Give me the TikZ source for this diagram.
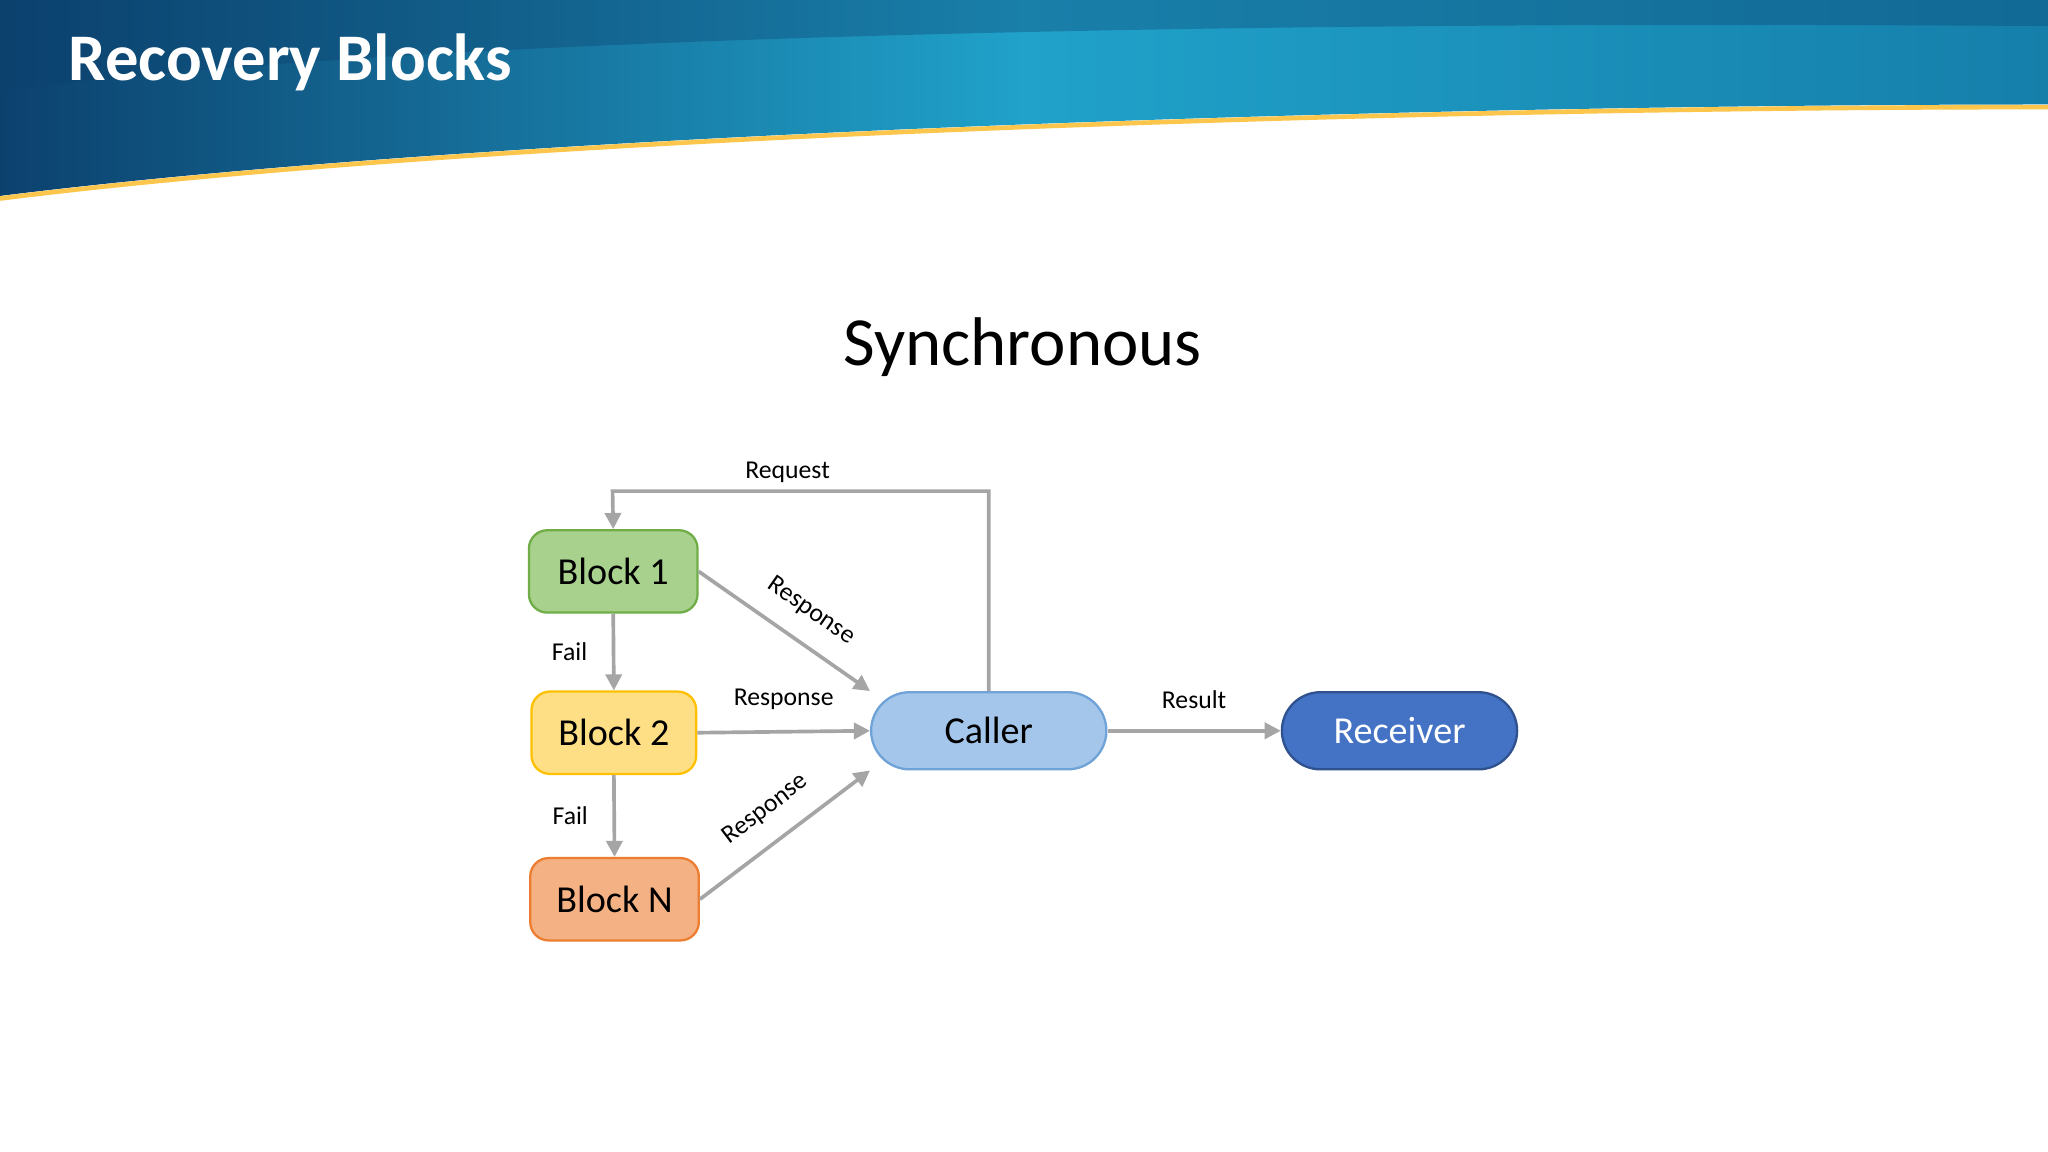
\documentclass[tikz,border=0pt]{standalone}
\usepackage{fontspec}
\setmainfont{Carlito}
\usetikzlibrary{arrows.meta}
\definecolor{arrgray}{HTML}{A5A5A5}
\definecolor{hdark}{HTML}{0C416E}
\definecolor{hmid}{HTML}{20A2CA}
\definecolor{hright}{HTML}{157FAA}
\definecolor{gfill}{HTML}{A9D18E}
\definecolor{gline}{HTML}{70AD47}
\definecolor{yfill}{HTML}{FFDF85}
\definecolor{yline}{HTML}{FFC000}
\definecolor{ofill}{HTML}{F4B183}
\definecolor{oline}{HTML}{ED7D31}
\definecolor{cfill}{HTML}{A4C6EA}
\definecolor{cline}{HTML}{6FA3D8}
\definecolor{rfill}{HTML}{4472C4}
\definecolor{rline}{HTML}{2F528F}
\begin{document}
\begin{tikzpicture}[x=0.01cm,y=-0.01cm,
    blk/.style={draw,line width=0.5pt,rounded corners=4pt,minimum width=1.29cm,minimum height=0.63cm,font=\fontsize{8.3}{10}\selectfont,text=black},
    pill/.style={draw,line width=0.5pt,rounded corners=0.295cm,minimum width=1.8cm,minimum height=0.59cm,font=\fontsize{8.3}{10}\selectfont},
    fwd/.style={draw=arrgray,line width=0.8pt,-{Triangle[length=3.5pt,width=3.5pt]}},
    lbl/.style={font=\fontsize{5.6}{7}\selectfont,text=black}]
  \useasboundingbox (0,0) rectangle (1568,882);
  \fill[white] (0,0) rectangle (1568,882);
  % header band
  \shade[left color=hdark, right color=hright, middle color=hmid]
    (0,0) -- (1568,0) -- (1568,80) .. controls (1100,80) and (400,100) .. (0,150) -- cycle;
  \fill[hdark,opacity=0.35] (0,0) -- (1568,0) -- (1568,20) .. controls (900,15) and (300,30) .. (0,70) -- cycle;
  \draw[yellow!40!orange!70!white,line width=1pt] (1568,82) .. controls (1100,82) and (400,102) .. (0,152);
  \node[anchor=west,text=white,font=\bfseries\fontsize{14.5}{17}\selectfont] (title) at (40,48) {Recovery Blocks};
  \node[font=\fontsize{15}{18}\selectfont] (sub) at (783,266) {Synchronous};
  % nodes
  \node[blk,fill=gfill,draw=gline] (b1) at (469.5,437.5) {Block 1};
  \node[blk,fill=yfill,draw=yline,minimum width=1.26cm] (b2) at (470,561) {Block 2};
  \node[blk,fill=ofill,draw=oline] (bn) at (470.5,688.5) {Block N};
  \node[pill,fill=cfill,draw=cline] (caller) at (757,559.5) {Caller};
  \node[pill,fill=rfill,draw=rline,text=white] (recv) at (1071.5,559.5) {Receiver};
  \coordinate (r1) at (757,376);
  \coordinate (r2) at (469,376);
  % connectors
  \draw[fwd] (caller.north) -- (r1) -- (r2) -- (b1.north);
  \node[lbl] (lreq) at (603,362) {Request};
  \draw[fwd] (b1.east) -- node[lbl,sloped,above=1pt,pos=0.55] {Response} (caller.north west);
  \draw[fwd] (b2.east) -- node[lbl,above=1pt] {Response} (caller.west);
  \draw[fwd] (bn.east) -- node[lbl,sloped,above=1pt,pos=0.5] {Response} (caller.south west);
  \draw[fwd] (caller.east) -- node[lbl,above=1pt] {Result} (recv.west);
  \draw[fwd] (b1.south) -- node[lbl,left=2pt] {Fail} (b2.north);
  \draw[fwd] (b2.south) -- node[lbl,left=2pt] {Fail} (bn.north);
\end{tikzpicture}
\end{document}
